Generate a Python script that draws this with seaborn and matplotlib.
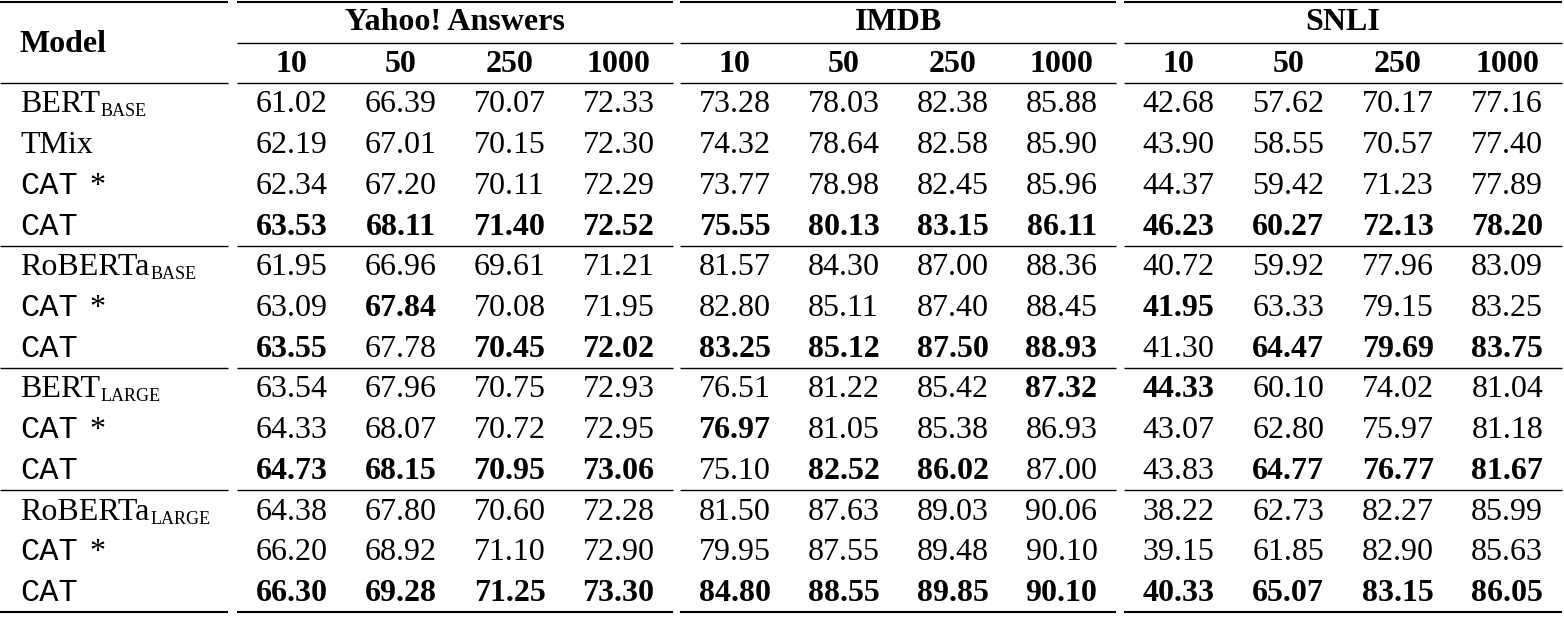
import matplotlib
matplotlib.use("Agg")
import matplotlib.pyplot as plt
import seaborn as sns

# ---------------- data ----------------
datasets = ["Yahoo! Answers", "IMDB", "SNLI"]
label_counts = ["10", "50", "250", "1000"]

model_names = ["BERT", "TMix", "CAT", "CAT", "RoBERTa", "CAT", "CAT",
               "BERT", "CAT", "CAT", "RoBERTa", "CAT", "CAT"]
model_subs = ["BASE", "", "", "", "BASE", "", "", "LARGE", "", "", "LARGE", "", ""]
model_star = [False, False, True, False, False, True, False, False, True, False, False, True, False]
model_mono = [False, False, True, True, False, True, True, False, True, True, False, True, True]
group_sizes = [4, 3, 3, 3]

yahoo = [
    [61.02, 66.39, 70.07, 72.33],
    [62.19, 67.01, 70.15, 72.30],
    [62.34, 67.20, 70.11, 72.29],
    [63.53, 68.11, 71.40, 72.52],
    [61.95, 66.96, 69.61, 71.21],
    [63.09, 67.84, 70.08, 71.95],
    [63.55, 67.78, 70.45, 72.02],
    [63.54, 67.96, 70.75, 72.93],
    [64.33, 68.07, 70.72, 72.95],
    [64.73, 68.15, 70.95, 73.06],
    [64.38, 67.80, 70.60, 72.28],
    [66.20, 68.92, 71.10, 72.90],
    [66.30, 69.28, 71.25, 73.30],
]
imdb = [
    [73.28, 78.03, 82.38, 85.88],
    [74.32, 78.64, 82.58, 85.90],
    [73.77, 78.98, 82.45, 85.96],
    [75.55, 80.13, 83.15, 86.11],
    [81.57, 84.30, 87.00, 88.36],
    [82.80, 85.11, 87.40, 88.45],
    [83.25, 85.12, 87.50, 88.93],
    [76.51, 81.22, 85.42, 87.32],
    [76.97, 81.05, 85.38, 86.93],
    [75.10, 82.52, 86.02, 87.00],
    [81.50, 87.63, 89.03, 90.06],
    [79.95, 87.55, 89.48, 90.10],
    [84.80, 88.55, 89.85, 90.10],
]
snli = [
    [42.68, 57.62, 70.17, 77.16],
    [43.90, 58.55, 70.57, 77.40],
    [44.37, 59.42, 71.23, 77.89],
    [46.23, 60.27, 72.13, 78.20],
    [40.72, 59.92, 77.96, 83.09],
    [41.95, 63.33, 79.15, 83.25],
    [41.30, 64.47, 79.69, 83.75],
    [44.33, 60.10, 74.02, 81.04],
    [43.07, 62.80, 75.97, 81.18],
    [43.83, 64.77, 76.77, 81.67],
    [38.22, 62.73, 82.27, 85.99],
    [39.15, 61.85, 82.90, 85.63],
    [40.33, 65.07, 83.15, 86.05],
]
yahoo_bold = [
    [0, 0, 0, 0], [0, 0, 0, 0], [0, 0, 0, 0], [1, 1, 1, 1],
    [0, 0, 0, 0], [0, 1, 0, 0], [1, 0, 1, 1],
    [0, 0, 0, 0], [0, 0, 0, 0], [1, 1, 1, 1],
    [0, 0, 0, 0], [0, 0, 0, 0], [1, 1, 1, 1],
]
imdb_bold = [
    [0, 0, 0, 0], [0, 0, 0, 0], [0, 0, 0, 0], [1, 1, 1, 1],
    [0, 0, 0, 0], [0, 0, 0, 0], [1, 1, 1, 1],
    [0, 0, 0, 1], [1, 0, 0, 0], [0, 1, 1, 0],
    [0, 0, 0, 0], [0, 0, 0, 0], [1, 1, 1, 1],
]
snli_bold = [
    [0, 0, 0, 0], [0, 0, 0, 0], [0, 0, 0, 0], [1, 1, 1, 1],
    [0, 0, 0, 0], [1, 0, 0, 0], [0, 1, 1, 1],
    [1, 0, 0, 0], [0, 0, 0, 0], [0, 1, 1, 1],
    [0, 0, 0, 0], [0, 0, 0, 0], [1, 1, 1, 1],
]
all_values = [yahoo, imdb, snli]
all_bold = [yahoo_bold, imdb_bold, snli_bold]

# ---------------- style ----------------
sns.set_theme(style="white")
SERIF = ["Liberation Serif", "DejaVu Serif"]
MONO = ["Liberation Mono", "DejaVu Sans Mono"]
plt.rcParams["font.family"] = SERIF
plt.rcParams["text.color"] = "black"
FS = 23
SUB_FS = 13

W, H = 1564, 617
fig = plt.figure(figsize=(W / 100, H / 100), dpi=100)
ax = fig.add_axes([0, 0, 1, 1])
ax.set_xlim(0, W)
ax.set_ylim(H, 0)
ax.axis("off")
sns.despine(ax=ax, left=True, bottom=True)

# layout (pixel units)
model_span = (0, 228)
group_spans = [(237, 673), (680, 1116), (1124, 1562)]
y_top, y_cmid, y_mid = 1.5, 43, 83
row_h = 40.7
base_off = 29.5

def hline(y, x0, x1, lw):
    ax.plot([x0, x1], [y, y], color="black", lw=lw, solid_capstyle="butt")

all_spans = [model_span] + group_spans
for (x0, x1) in all_spans:
    hline(y_top, x0, x1, 1.5)
    hline(y_mid, x0, x1, 1.0)
for (x0, x1) in group_spans:
    hline(y_cmid, x0, x1, 1.0)

# header
ax.text(19, 52, "Model", fontsize=FS, fontweight="bold", ha="left", va="baseline", color="black")
for g, (x0, x1) in enumerate(group_spans):
    ax.text((x0 + x1) / 2, 30, datasets[g], fontsize=FS, fontweight="bold",
            ha="center", va="baseline", color="black")
    cw = (x1 - x0) / 4
    for j, lab in enumerate(label_counts):
        ax.text(x0 + cw * (j + 0.5), 72, lab, fontsize=FS, fontweight="bold",
                ha="center", va="baseline", color="black")

fig.canvas.draw()
renderer = fig.canvas.get_renderer()

# body
row_y = []
y = y_mid
sep_ys = []
for gs in group_sizes:
    for r in range(gs):
        row_y.append(y + r * row_h)
    y = y + gs * row_h
    sep_ys.append(y)

for i, name in enumerate(model_names):
    yb = row_y[i] + base_off
    if model_mono[i]:
        t = ax.text(20, yb, name, fontsize=FS, family=MONO, ha="left", va="baseline", color="black")
    else:
        t = ax.text(20, yb, name, fontsize=FS, ha="left", va="baseline", color="black")
    bb = t.get_window_extent(renderer)
    if model_subs[i]:
        ax.text(bb.x1 + 1, yb + 4, model_subs[i], fontsize=SUB_FS, ha="left",
                va="baseline", color="black")
    if model_star[i]:
        ax.text(bb.x1 + 12, yb, "*", fontsize=FS, ha="left", va="baseline", color="black")
    for g, (x0, x1) in enumerate(group_spans):
        cw = (x1 - x0) / 4
        for j in range(4):
            v = all_values[g][i][j]
            b = all_bold[g][i][j]
            ax.text(x0 + cw * (j + 0.5), yb, f"{v:.2f}", fontsize=FS,
                    fontweight="bold" if b else "normal", ha="center",
                    va="baseline", color="black")

for n, ys in enumerate(sep_ys):
    lw = 1.5 if n == len(sep_ys) - 1 else 1.0
    for (x0, x1) in all_spans:
        hline(ys, x0, x1, lw)

fig.savefig("out.png", dpi=100)
